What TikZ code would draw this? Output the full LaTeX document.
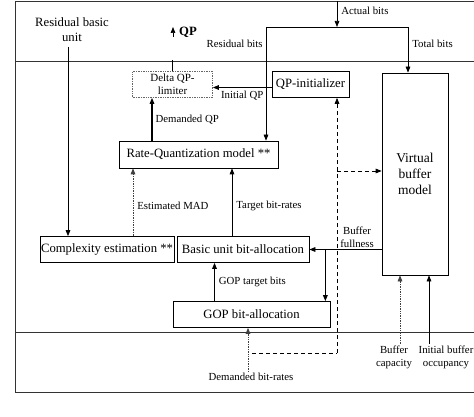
\documentclass[tikz,border=0pt]{standalone}
\usepackage{fontspec}
\setmainfont{Liberation Serif}
\usetikzlibrary{arrows.meta,positioning}

\begin{document}
\begin{tikzpicture}[
  x=1pt, y=-1pt,
  line width=0.7pt,
  blk/.style={draw, minimum height=26pt, inner sep=1pt, align=center, font=\fontsize{12.7}{15}\selectfont},
  lbl/.style={font=\fontsize{10.8}{13}\selectfont, align=center, inner sep=1pt},
  arr/.style={-{Triangle[length=6pt,width=4.6pt]}},
  dsh/.style={dash pattern=on 4pt off 3pt},
  dot/.style={densely dotted, draw=black!75},
  heavy/.style={line width=1.2pt}
]
\useasboundingbox (0,0) rectangle (474,417);
% frame and bands
\draw[black!80] (474,1) -- (15,1) -- (15,392) -- (474,392);
\draw[black!80] (15,61) -- (474,61);
\draw[black!80] (15,332) -- (474,332);

% blocks
\node[blk, draw=black!60, densely dotted, minimum width=80pt, font=\fontsize{11}{13}\selectfont] (dqp) at (172.5,84.5) {Delta QP-\\limiter};
\node[blk, minimum width=77pt] (qpi) at (310.5,84.5) {QP-initializer};
\node[blk, minimum width=159pt, minimum height=27pt] (rq) at (198.5,154.5) {Rate-Quantization model **};
\node[blk, minimum width=66pt, minimum height=202pt, font=\fontsize{13.5}{16}\selectfont] (vbm) at (415,174) {Virtual\\buffer\\model};
\node[blk, minimum width=132pt] (cpx) at (107,249.5) {Complexity estimation **};
\node[blk, minimum width=132pt] (bua) at (243,249.5) {Basic unit bit-allocation};
\node[blk, minimum width=157pt] (gop) at (251.5,314.5) {GOP bit-allocation};

% inputs and outputs
\node[lbl, font=\fontsize{12.7}{15}\selectfont] (res) at (72,30) {Residual basic\\unit};
\node[font=\fontsize{12.7}{15}\selectfont\bfseries, inner sep=1pt] (qp) at (188,32) {QP};
\node[lbl] (dbrl) at (251,377) {Demanded bit-rates};
\node[lbl] (bcap) at (394,357) {Buffer\\capacity};
\node[lbl] (ibo) at (446,357) {Initial buffer\\occupancy};

\coordinate (resout) at (68,47);
\coordinate (qpfoot) at (173,37);
\coordinate (qptip) at (173,27);
\coordinate (abin) at (337,1);
\coordinate (rbj) at (266,27);
\coordinate (tbj) at (408,27);
\coordinate (dbr) at (252,353);
\coordinate (dcor) at (337,353);
\coordinate (dbj) at (337,171);

% connectors
\draw[arr] (resout) -- (resout |- cpx.north);
\draw[arr] (qpfoot) -- (qptip);
\draw (dqp.north) -- ++(0,-11);
\draw[arr] (abin) -- (abin |- rbj) node[lbl, pos=0.38, right=3pt] {Actual bits};
\draw (rbj) -- (tbj);
\draw[arr] (rbj) -- (rbj |- rq.north) node[lbl, pos=0.15, left=2pt] {Residual bits};
\draw[arr] (tbj) -- (tbj |- vbm.north) node[lbl, pos=0.37, right=3pt] {Total bits};
\draw[arr] ([yshift=-3pt]qpi.west) -- ([yshift=-3pt]dqp.east) node[lbl, midway, below=2pt] {Initial QP};
\draw[arr, heavy] ([xshift=-20.5pt]dqp.south |- rq.north) -- ([xshift=-20.5pt]dqp.south) node[lbl, midway, right=2pt] {Demanded QP};
\draw[arr, dot] ([xshift=26pt]cpx.north) -- ([xshift=26pt]cpx.north |- rq.south) node[lbl, pos=0.45, right=3pt] {Estimated MAD};
\draw[arr] ([xshift=-11pt]bua.north) -- ([xshift=-11pt]bua.north |- rq.south) node[lbl, pos=0.45, right=3pt] {Target bit-rates};
\draw[arr] (vbm.west |- bua.east) -- (bua.east) node[lbl, pos=0.34, above=1pt] {Buffer\\fullness};
\draw[arr, heavy] ([xshift=16pt]bua.east) -- ([xshift=16pt]bua.east |- gop.north);
\draw[arr] ([xshift=-37pt]gop.north) -- ([xshift=-37pt]gop.north |- bua.south) node[lbl, midway, right=3pt] {GOP target bits};
\draw[arr, dot] ([xshift=-3pt]dbrl.north) -- ([xshift=-3pt]dbrl.north |- gop.south);
\draw[dsh] (dbr) -- (dcor);
\draw[arr, dsh] (dcor) -- (dcor |- qpi.south);
\draw[arr, dsh] (dbj) -- (dbj -| vbm.west);
\draw[arr, dot] ([xshift=6pt]bcap.north) -- ([xshift=6pt]bcap.north |- vbm.south);
\draw[arr] ([xshift=-17pt]ibo.north) -- ([xshift=-17pt]ibo.north |- vbm.south);
\end{tikzpicture}
\end{document}
